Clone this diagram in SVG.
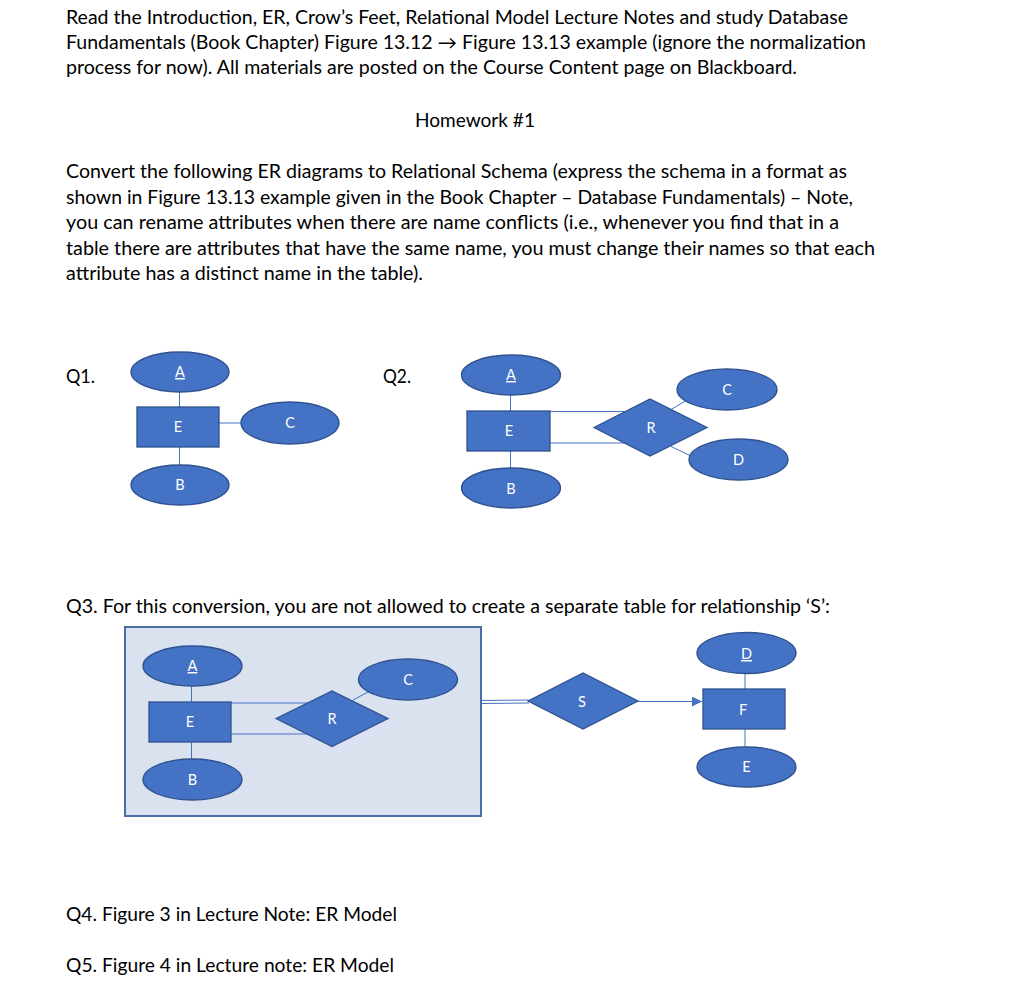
<svg xmlns="http://www.w3.org/2000/svg" width="1024" height="981" viewBox="0 0 1024 981">
<style>
.t{font-family:"Lato","Open Sans","Liberation Sans",sans-serif;font-size:18.5px;fill:#000}
.lbl{font-family:"Lato","Open Sans","Liberation Sans",sans-serif;font-size:14.5px;fill:#fff;text-anchor:middle}
.sh{fill:#4472c4;stroke:#2f528f;stroke-width:1.3}
.ln{stroke:#4472c4;stroke-width:1;fill:none}
</style>
<defs>
<marker id="arr" viewBox="0 0 10 10" refX="10" refY="5" markerWidth="10" markerHeight="10" markerUnits="userSpaceOnUse" orient="auto">
<path d="M0,0 L10,5 L0,10 z" fill="#4472c4"/>
</marker>
</defs>
<rect width="1024" height="981" fill="#fff"/>
<g id="text">
<text class="t" x="66" y="24" textLength="782" lengthAdjust="spacingAndGlyphs">Read the Introduction, ER, Crow’s Feet, Relational Model Lecture Notes and study Database</text>
<text class="t" x="66" y="49" textLength="800" lengthAdjust="spacingAndGlyphs">Fundamentals (Book Chapter) Figure 13.12 → Figure 13.13 example (ignore the normalization</text>
<text class="t" x="66" y="74" textLength="731" lengthAdjust="spacingAndGlyphs">process for now). All materials are posted on the Course Content page on Blackboard.</text>
<text class="t" x="415" y="127" textLength="120" lengthAdjust="spacingAndGlyphs">Homework #1</text>
<text class="t" x="66" y="178" textLength="781" lengthAdjust="spacingAndGlyphs">Convert the following ER diagrams to Relational Schema (express the schema in a format as</text>
<text class="t" x="66" y="203.5" textLength="787" lengthAdjust="spacingAndGlyphs">shown in Figure 13.13 example given in the Book Chapter – Database Fundamentals) – Note,</text>
<text class="t" x="66" y="229" textLength="773" lengthAdjust="spacingAndGlyphs">you can rename attributes when there are name conflicts (i.e., whenever you find that in a</text>
<text class="t" x="66" y="254.5" textLength="809" lengthAdjust="spacingAndGlyphs">table there are attributes that have the same name, you must change their names so that each</text>
<text class="t" x="66" y="280" textLength="357" lengthAdjust="spacingAndGlyphs">attribute has a distinct name in the table).</text>
<text class="t" x="66" y="383" textLength="29" lengthAdjust="spacingAndGlyphs">Q1.</text>
<text class="t" x="383" y="383" textLength="28" lengthAdjust="spacingAndGlyphs">Q2.</text>
<text class="t" x="66" y="613" textLength="764" lengthAdjust="spacingAndGlyphs">Q3. For this conversion, you are not allowed to create a separate table for relationship ‘S’:</text>
<text class="t" x="66" y="921" textLength="331" lengthAdjust="spacingAndGlyphs">Q4. Figure 3 in Lecture Note: ER Model</text>
<text class="t" x="66" y="972" textLength="328" lengthAdjust="spacingAndGlyphs">Q5. Figure 4 in Lecture note: ER Model</text>
</g>
<rect id="q3box" x="125" y="627" width="356" height="189" fill="#dae1ef" stroke="#4a6ea8" stroke-width="2"/>
<g id="connectors">
<line class="ln" x1="179.5" y1="392" x2="179.5" y2="407"/>
<line class="ln" x1="179.5" y1="447" x2="179.5" y2="465"/>
<line class="ln" x1="219" y1="423" x2="241" y2="423"/>
<line class="ln" x1="510.5" y1="395" x2="510.5" y2="411"/>
<line class="ln" x1="510.5" y1="451" x2="510.5" y2="468"/>
<line class="ln" x1="550" y1="411.5" x2="630" y2="411.5"/>
<line class="ln" x1="550" y1="443" x2="627" y2="443"/>
<line class="ln" x1="671" y1="409.5" x2="687" y2="400"/>
<line class="ln" x1="671" y1="446.5" x2="691" y2="456"/>
<line class="ln" x1="191.5" y1="686" x2="191.5" y2="702"/>
<line class="ln" x1="191.5" y1="742" x2="191.5" y2="759"/>
<line class="ln" x1="231" y1="703" x2="308" y2="703"/>
<line class="ln" x1="231" y1="734" x2="307" y2="734"/>
<line class="ln" x1="353" y1="700" x2="369" y2="691.5"/>
<line class="ln" x1="482" y1="700.5" x2="529" y2="700"/>
<line class="ln" x1="482" y1="703.5" x2="529" y2="703"/>
<line class="ln" x1="638" y1="701.5" x2="702" y2="701.5" marker-end="url(#arr)"/>
<line class="ln" x1="745" y1="673" x2="745" y2="689"/>
<line class="ln" x1="745" y1="729" x2="745" y2="747"/>
</g>
<g id="q1-A"><ellipse class="sh" cx="180" cy="372" rx="49" ry="20"/><text class="lbl" x="180" y="377" text-decoration="underline">A</text></g>
<g id="q1-E"><rect class="sh" x="137" y="407" width="82" height="40"/><text class="lbl" x="178" y="432">E</text></g>
<g id="q1-C"><ellipse class="sh" cx="290" cy="423" rx="49" ry="21"/><text class="lbl" x="290" y="428">C</text></g>
<g id="q1-B"><ellipse class="sh" cx="180" cy="485" rx="49" ry="20"/><text class="lbl" x="180" y="490">B</text></g>
<g id="q2-A"><ellipse class="sh" cx="511" cy="375" rx="49.5" ry="20"/><text class="lbl" x="511" y="380" text-decoration="underline">A</text></g>
<g id="q2-E"><rect class="sh" x="467" y="411" width="83" height="40"/><text class="lbl" x="509" y="436">E</text></g>
<g id="q2-B"><ellipse class="sh" cx="511" cy="488" rx="49.5" ry="20"/><text class="lbl" x="511" y="494">B</text></g>
<g id="q2-R"><polygon class="sh" points="594,427.5 650,399 707,427.5 650,456"/><text class="lbl" x="651" y="433">R</text></g>
<g id="q2-C"><ellipse class="sh" cx="727" cy="389.5" rx="50" ry="20.5"/><text class="lbl" x="727" y="395">C</text></g>
<g id="q2-D"><ellipse class="sh" cx="738.5" cy="459.5" rx="49.5" ry="20.5"/><text class="lbl" x="738.5" y="465">D</text></g>
<g id="q3-A"><ellipse class="sh" cx="192.5" cy="666" rx="49.5" ry="20"/><text class="lbl" x="192.5" y="671" text-decoration="underline">A</text></g>
<g id="q3-E"><rect class="sh" x="149" y="702" width="82" height="40"/><text class="lbl" x="190" y="727">E</text></g>
<g id="q3-B"><ellipse class="sh" cx="192.5" cy="779.5" rx="49.5" ry="20.5"/><text class="lbl" x="192.5" y="785">B</text></g>
<g id="q3-R"><polygon class="sh" points="276,718.5 332,691 388,718.5 332,746.5"/><text class="lbl" x="332" y="724">R</text></g>
<g id="q3-C"><ellipse class="sh" cx="408" cy="679.5" rx="49.5" ry="20.5"/><text class="lbl" x="408" y="685">C</text></g>
<g id="q3-S"><polygon class="sh" points="528,701 583,673 638,701 583,729"/><text class="lbl" x="582" y="707">S</text></g>
<g id="q3-F"><rect class="sh" x="703" y="689" width="82" height="40"/><text class="lbl" x="743" y="715">F</text></g>
<g id="q3-D"><ellipse class="sh" cx="746.5" cy="653" rx="49.5" ry="20.5"/><text class="lbl" x="746.5" y="659" text-decoration="underline">D</text></g>
<g id="q3-E2"><ellipse class="sh" cx="746.5" cy="767" rx="49.5" ry="20"/><text class="lbl" x="746.5" y="772">E</text></g>
</svg>
